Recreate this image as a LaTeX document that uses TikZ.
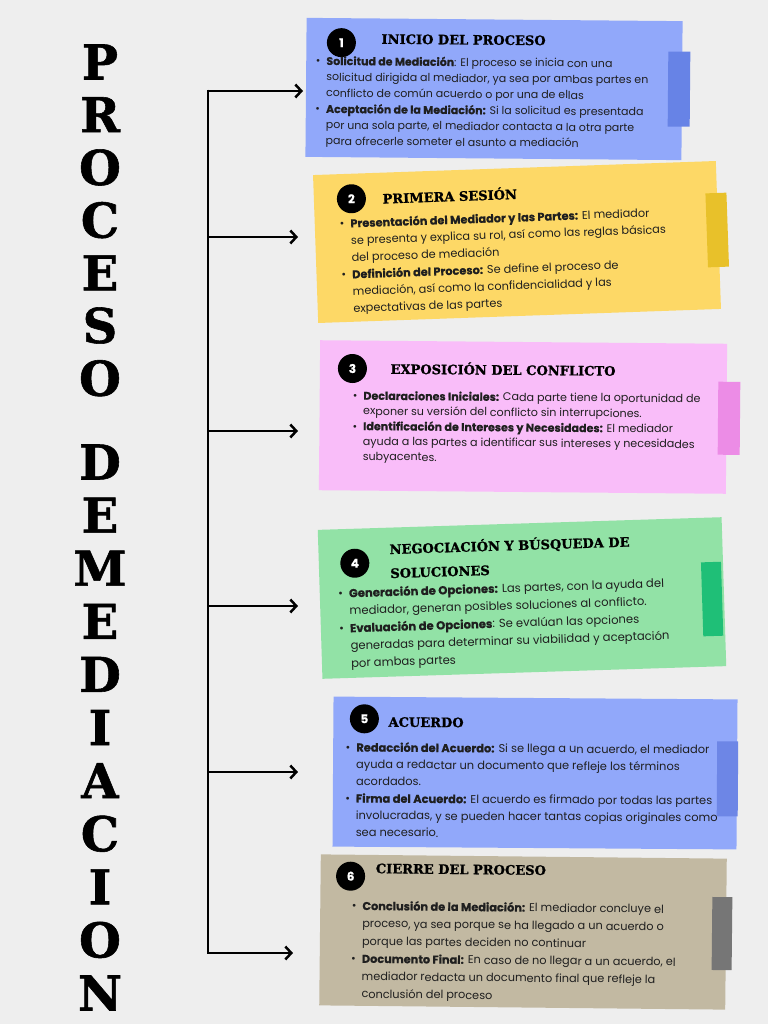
\documentclass[tikz,border=0pt]{standalone}
\usepackage{fontspec}
\setmainfont{Poppins}[BoldFeatures={FakeBold=0.5}]
\newfontfamily\slab{DejaVu Serif}[BoldFeatures={FakeBold=1.2}]
\usetikzlibrary{arrows.meta}
\definecolor{bgc}{HTML}{EEEEEE}
\definecolor{cA}{HTML}{91A8FA}\definecolor{tA}{HTML}{6783E6}
\definecolor{cB}{HTML}{FDD866}\definecolor{tB}{HTML}{E8C12A}
\definecolor{cC}{HTML}{F9BDF9}\definecolor{tC}{HTML}{EC8CE6}
\definecolor{cD}{HTML}{92E2A6}\definecolor{tD}{HTML}{1FBF77}
\definecolor{cE}{HTML}{91A8FA}\definecolor{tE}{HTML}{6D86E6}
\definecolor{cF}{HTML}{C2B9A2}\definecolor{tF}{HTML}{767676}
\newcommand\bl{\makebox[0pt][r]{\textbullet\hspace{6pt}}}
\tikzset{
  card/.style={draw=none, inner sep=0pt, rectangle},
  tabbox/.style={draw=none, inner sep=0pt, rectangle},
  num/.style={circle, fill=black, text=white, minimum size=29pt, inner sep=0pt, font=\bfseries\fontsize{12}{12}\selectfont},
  ttl/.style={anchor=west, inner sep=0pt, align=left, font=\slab\bfseries\fontsize{13}{24}\selectfont},
  body/.style={anchor=north west, inner sep=0pt, align=left, text=black!88},
  big/.style={anchor=base, inner sep=0pt, font=\slab\bfseries\fontsize{48}{48}\selectfont},
  arr/.style={line width=2.5pt, -{Straight Barb[length=6pt,width=13pt,line width=2.5pt]}},
  spine/.style={line width=2.5pt}
}
\begin{document}
\begin{tikzpicture}[x=1pt,y=1pt]
\useasboundingbox (0,-1024) rectangle (768,0);
\fill[bgc] (0,-1024) rectangle (768,0);
% vertical title
\foreach \L [count=\i from 0] in {P,R,O,C,E,S,O}
  \node[big] (w1l\i) at (100,{-(62+52.7*\i)-17.5}) {\L};
\foreach \L [count=\i from 0] in {D,E,M,E,D,I,A,C,I,O,N}
  \node[big] (w2l\i) at (100,{-(462+53.1*\i)-17.5}) {\L};
% card 1
\begin{scope}[shift={(494,-89)}, rotate=-0.5, transform shape]
\node[card, fill=cA, minimum width=376pt, minimum height=139pt] (card1) at (0,0) {};
\node[tabbox, fill=tA, minimum width=22pt, minimum height=75pt] (tab1) at (185,1.5) {};
\node[num] (n1) at (-153,45) {1};
\node[ttl] (t1) at (-113,49) {INICIO DEL PROCESO};
\node[body, font=\fontsize{11}{16}\selectfont] (b1) at (-168,32) {\bl\textbf{Solicitud de Mediación}: El proceso se inicia con una\\
solicitud dirigida al mediador, ya sea por ambas partes en\\
conflicto de común acuerdo o por una de ellas\\
\bl\textbf{Aceptación de la Mediación:} Si la solicitud es presentada\\
por una sola parte, el mediador contacta a la otra parte\\
para ofrecerle someter el asunto a mediación};
\end{scope}
% card 2
\begin{scope}[shift={(517,-242)}, rotate=2, transform shape]
\node[card, fill=cB, minimum width=403pt, minimum height=148pt] (card2) at (0,0) {};
\node[tabbox, fill=tB, minimum width=21pt, minimum height=74pt] (tab2) at (200.5,5) {};
\node[num] (n2) at (-164,49) {2};
\node[ttl] (t2) at (-133,49) {PRIMERA SESIÓN};
\node[body, font=\fontsize{11.3}{17}\selectfont] (b2) at (-166,30) {\bl\textbf{Presentación del Mediador y las Partes:} El mediador\\
se presenta y explica su rol, así como las reglas básicas\\
del proceso de mediación\\
\bl\textbf{Definición del Proceso:} Se define el proceso de\\
mediación, así como la confidencialidad y las\\
expectativas de las partes};
\end{scope}
% card 3
\begin{scope}[shift={(523,-417)}, rotate=-0.5, transform shape]
\node[card, fill=cC, minimum width=407pt, minimum height=150pt] (card3) at (0,0) {};
\node[tabbox, fill=tC, minimum width=22pt, minimum height=73pt] (tab3) at (206,0.5) {};
\node[num] (n3) at (-171,47) {3};
\node[ttl] (t3) at (-133,48) {EXPOSICIÓN DEL CONFLICTO};
\node[body, font=\fontsize{11.1}{15.2}\selectfont] (b3) at (-160,25) {\bl\textbf{Declaraciones Iniciales:} Cada parte tiene la oportunidad de\\
exponer su versión del conflicto sin interrupciones.\\
\bl\textbf{Identificación de Intereses y Necesidades:} El mediador\\
ayuda a las partes a identificar sus intereses y necesidades\\
subyacentes.};
\end{scope}
% card 4
\begin{scope}[shift={(522,-598)}, rotate=1.8, transform shape]
\node[card, fill=cD, minimum width=404pt, minimum height=149pt] (card4) at (0,0) {};
\node[tabbox, fill=tD, minimum width=20pt, minimum height=74pt] (tab4) at (190,-7) {};
\node[num] (n4) at (-166,40) {4};
\node[ttl] (t4) at (-131,42) {NEGOCIACIÓN Y BÚSQUEDA DE\\SOLUCIONES};
\node[body, font=\fontsize{11.6}{17.5}\selectfont] (b4) at (-173,16) {\bl\textbf{Generación de Opciones:} Las partes, con la ayuda del\\
mediador, generan posibles soluciones al conflicto.\\
\bl\textbf{Evaluación de Opciones}: Se evalúan las opciones\\
generadas para determinar su viabilidad y aceptación\\
por ambas partes};
\end{scope}
% card 5
\begin{scope}[shift={(535,-773)}, rotate=-0.4, transform shape]
\node[card, fill=cE, minimum width=404pt, minimum height=150pt] (card5) at (0,0) {};
\node[tabbox, fill=tE, minimum width=21pt, minimum height=75pt] (tab5) at (192.5,-4.5) {};
\node[num] (n5) at (-171,53) {5};
\node[ttl] (t5) at (-147,50) {ACUERDO};
\node[body, font=\fontsize{11.4}{17}\selectfont] (b5) at (-179,30) {\bl\textbf{Redacción del Acuerdo:} Si se llega a un acuerdo, el mediador\\
ayuda a redactar un documento que refleje los términos\\
acordados.\\
\bl\textbf{Firma del Acuerdo:} El acuerdo es firmado por todas las partes\\
involucradas, y se pueden hacer tantas copias originales como\\
sea necesario.};
\end{scope}
% card 6
\begin{scope}[shift={(523,-932)}, rotate=-0.6, transform shape]
\node[card, fill=cF, minimum width=406pt, minimum height=151pt] (card6) at (0,0) {};
\node[tabbox, fill=tF, minimum width=20pt, minimum height=73pt] (tab6) at (199,0.5) {};
\node[num] (n6) at (-173,54) {6};
\node[ttl] (t6) at (-148,62) {CIERRE DEL PROCESO};
\node[body, font=\fontsize{11.3}{17.6}\selectfont] (b6) at (-161,30) {\bl\textbf{Conclusión de la Mediación:} El mediador concluye el\\
proceso, ya sea porque se ha llegado a un acuerdo o\\
porque las partes deciden no continuar\\
\bl\textbf{Documento Final:} En caso de no llegar a un acuerdo, el\\
mediador redacta un documento final que refleje la\\
conclusión del proceso};
\end{scope}
% connectors
\coordinate (s1) at (208,-91);
\coordinate (s2) at (208,-237);
\coordinate (s3) at (208,-431);
\coordinate (s4) at (208,-606);
\coordinate (s5) at (208,-772);
\coordinate (s6) at (208,-953);
\coordinate (e1) at (303,-91);
\coordinate (e2) at (298,-237);
\coordinate (e3) at (298,-431);
\coordinate (e4) at (298,-606);
\coordinate (e5) at (298,-772);
\coordinate (e6) at (293,-953);
\draw[spine] ([yshift=1.25pt]s1) -- ([yshift=-1.25pt]s6);
\foreach \k in {1,...,6} \draw[arr] (s\k) -- (e\k);
\end{tikzpicture}
\end{document}
